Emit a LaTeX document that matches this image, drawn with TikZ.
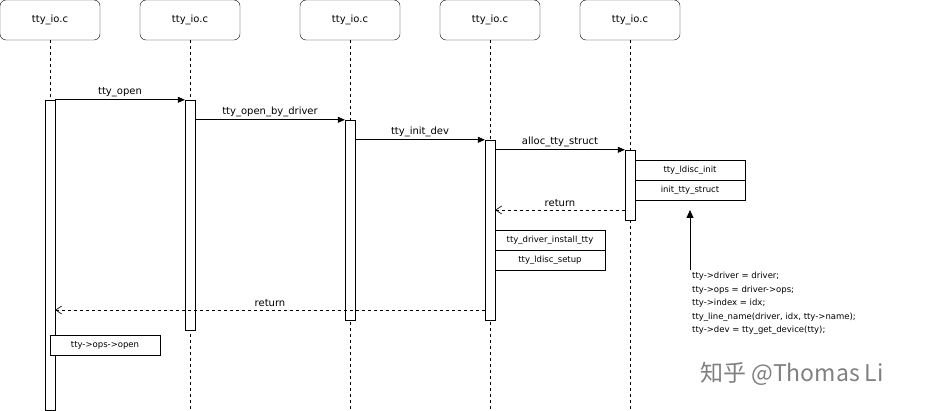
\documentclass[tikz,border=0pt]{standalone}
\usepackage{fontspec}
\setmainfont{DejaVu Sans}
\newfontfamily\cjk{Noto Sans CJK SC}
\usetikzlibrary{arrows.meta}
\begin{document}
\begin{tikzpicture}[x=1pt,y=-1pt,
  hdr/.style={draw,rounded corners=6pt,minimum width=100pt,minimum height=40pt,inner sep=0pt,font=\fontsize{10}{12}\selectfont},
  act/.style={draw,fill=white,minimum width=10pt,inner sep=0pt},
  life/.style={dashed,line width=0.6pt},
  msg/.style={-{Triangle[length=7pt,width=6pt]},line width=0.6pt},
  ret/.style={dashed,-{Straight Barb[length=6pt,width=8pt]},line width=0.6pt},
  lbl/.style={font=\fontsize{10}{12}\selectfont,inner sep=3pt},
  sub/.style={draw,fill=white,minimum width=110pt,minimum height=20pt,inner sep=0pt,font=\fontsize{8.5}{10}\selectfont}]
\useasboundingbox (0,0) rectangle (952,411);
\foreach \i/\x in {1/50,2/190,3/350,4/490,5/630}{
  \node[hdr] (h\i) at (\x,20) {tty\_io.c};
  \draw[life] (h\i.south) -- (\x,411);
}
\node[act,minimum height=310pt] (a1) at (50,255) {};
\node[act,minimum height=230pt] (a2) at (190,215) {};
\node[act,minimum height=200pt] (a3) at (350,220) {};
\node[act,minimum height=180pt] (a4) at (490,230) {};
\node[act,minimum height=70pt] (a5) at (630,185) {};
\draw[msg] (a1.north east) -- node[lbl,above]{tty\_open} (a2.north west);
\draw[msg] (a2.east |- a3.north) -- node[lbl,above]{tty\_open\_by\_driver} (a3.north west);
\draw[msg] (a3.east |- a4.north) -- node[lbl,above]{tty\_init\_dev} (a4.north west);
\draw[msg] (a4.east |- a5.north) -- node[lbl,above]{alloc\_tty\_struct} (a5.north west);
\draw[ret] (a5.west |- 0,210) -- node[lbl,above]{return} (a4.east |- 0,210);
\draw[ret] (a4.west |- 0,310) -- node[lbl,above]{return} (a1.east |- 0,310);
\node[sub] (s1) at (690,170) {tty\_ldisc\_init};
\node[sub] (s2) at (690,190) {init\_tty\_struct};
\node[sub] (s3) at (550,240) {tty\_driver\_install\_tty};
\node[sub] (s4) at (550,260) {tty\_ldisc\_setup};
\node[sub] (s5) at (105,345) {tty->ops->open};
\node[anchor=north west,align=left,inner sep=0pt,font=\fontsize{8.5}{13.5}\selectfont] (note) at (692,272)
 {tty->driver = driver;\\tty->ops = driver->ops;\\tty->index = idx;\\tty\_line\_name(driver, idx, tty->name);\\tty->dev = tty\_get\_device(tty);};
\coordinate (tip) at (690,210);
\draw[-{Triangle[length=8pt,width=7pt]},line width=0.8pt] (690,270) -- (tip);
\node[font=\cjk\fontsize{23}{25}\selectfont,text=black!50,anchor=west,inner sep=0pt] (wm) at (700,374) {知乎 @Thomas Li};
\end{tikzpicture}
\end{document}
